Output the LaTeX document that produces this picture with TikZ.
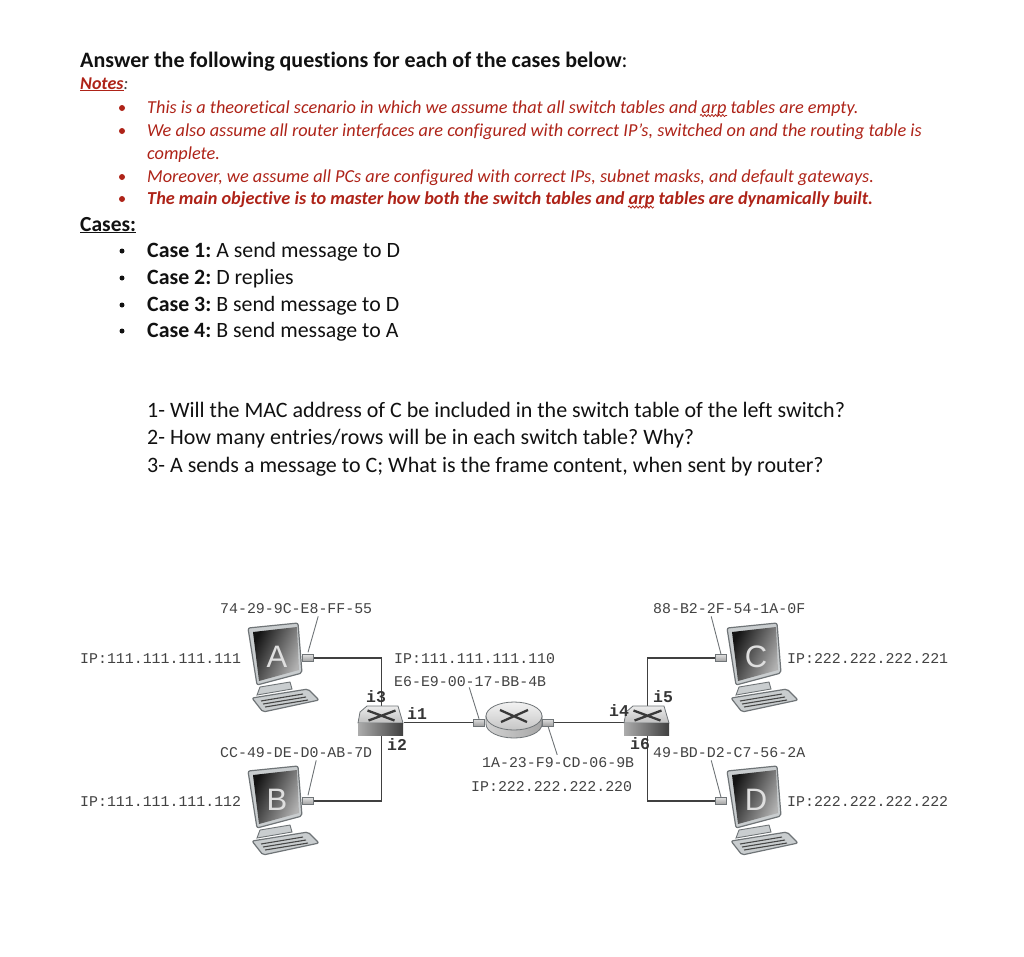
\documentclass[tikz,border=0pt]{standalone}
\usepackage{fontspec}
\setmainfont{Carlito}[Ligatures=NoCommon]
\setsansfont{Liberation Sans}
\setmonofont{Liberation Mono}
\frenchspacing
\usetikzlibrary{backgrounds,decorations.pathmorphing}
\definecolor{notered}{HTML}{AE2318}
\definecolor{ink}{HTML}{111111}
\definecolor{labelgray}{HTML}{424242}
\definecolor{wiregray}{HTML}{404040}
\definecolor{casing}{HTML}{C9CDCF}
\definecolor{edgegray}{HTML}{6F7477}
\tikzset{
  plain/.style={anchor=base west,inner sep=0pt,text=ink},
  heading/.style={plain,font=\fontsize{22}{24}\selectfont\bfseries},
  notehead/.style={plain,text=notered,font=\fontsize{18}{20}\selectfont\itshape\bfseries},
  notetext/.style={plain,text=notered,font=\fontsize{18.28}{20}\selectfont\itshape},
  notebold/.style={notetext,font=\fontsize{18.28}{20}\selectfont\itshape\bfseries},
  casehead/.style={plain,font=\fontsize{21.5}{24}\selectfont\bfseries},
  casetext/.style={plain,font=\fontsize{21.85}{24}\selectfont},
  asktext/.style={plain,font=\fontsize{22}{24}\selectfont},
  notedot/.style={circle,fill=notered,inner sep=0pt,minimum size=6pt},
  casedot/.style={circle,fill=ink,inner sep=0pt,minimum size=5pt},
  addr/.style={anchor=base west,inner sep=0pt,text=labelgray,font=\fontsize{14.9}{16}\selectfont\ttfamily},
  iface/.style={anchor=base west,inner sep=0pt,text=labelgray!80!black,font=\fontsize{16.5}{18}\selectfont\ttfamily\bfseries},
  portbox/.style={draw=edgegray,line width=0.5pt,top color=gray!25,bottom color=gray!75,inner sep=0pt,minimum width=11pt,minimum height=7pt},
  switchnode/.style={inner sep=0pt,minimum width=45pt,minimum height=29pt},
  routernode/.style={inner sep=0pt,minimum width=56pt,minimum height=36pt},
  wire/.style={draw=wiregray,line width=1.8pt,line join=miter},
  leader/.style={draw=edgegray,line width=0.9pt},
  squiggle/.style={draw=notered,line width=0.8pt,decorate,decoration={snake,amplitude=1.1pt,segment length=3.6pt}},
  pcletter/.style={inner sep=0pt,text=gray!25,font=\fontsize{31}{31}\selectfont\sffamily},
  pics/pc/.style={code={
    \draw[fill=casing,draw=edgegray,line width=1.2pt,rounded corners=2pt]
      (0,0) -- (50,-5) -- (54,45) -- (9,57) -- cycle;
    \shade[left color=black!92,right color=gray!60,shading angle=65]
      (5,4) -- (49,-1) -- (51,42) -- (11,53) -- cycle;
    \draw[fill=casing,draw=edgegray,line width=0.9pt]
      (12,59) -- (42,54) -- (44,61) -- (9,67) -- cycle;
    \draw[fill=casing,draw=edgegray,line width=1.2pt,rounded corners=2pt]
      (4,70) -- (60,61) -- (71,72) -- (15,84) -- cycle;
    \draw[draw=gray!55!black,line width=1.1pt]
      (13,73) -- (55,66) (15,76) -- (58,69) (17,79) -- (60,72);
    \node[pcletter] (-letter) at (29,29) {#1};
  }},
  pics/switchbox/.style={code={
    \draw[top color=gray!15,bottom color=gray!50,draw=edgegray,line width=0.8pt]
      (-21.5,-8.5) -- (-14.5,-14.5) -- (16.5,-14.5) -- (21.5,2.5) -- (-23.5,2.5) -- cycle;
    \shade[left color=gray!65,right color=black!75]
      (-23.5,2.5) -- (21.5,2.5) -- (21.5,14.5) -- (-23.5,14.5) -- cycle;
    \draw[draw=gray!45!black,line width=2.3pt] (-14,-10) -- (13,0) (-13,0) -- (14,-10);
  }},
  pics/routerbody/.style={code={
    \draw[left color=gray!35,right color=gray!70,draw=edgegray,line width=0.8pt]
      (-28,-4) -- (-28,4) arc[start angle=180,end angle=360,x radius=28,y radius=-14] -- (28,-4) -- cycle;
    \draw[top color=gray!10,bottom color=gray!45,draw=edgegray,line width=0.8pt]
      (0,-4) ellipse[x radius=28,y radius=14];
    \draw[draw=gray!45!black,line width=2.3pt] (-14,-10) -- (13,2) (-13,2) -- (14,-10);
  }}
}
\begin{document}
\begin{tikzpicture}[x=1pt,y=-1pt]
  \useasboundingbox (0,0) rectangle (1024,956);

  % Question sheet text.
  \node[heading] (title) at (80,67) {Answer the following questions for each of the cases below{\mdseries:}};
  \node[notehead] (notes) at (80,89) {\underline{Notes}{\mdseries\color{labelgray}:}};

  \node[notedot] (dotone) at (122,108) {};
  \node[notedot] (dottwo) at (122,131) {};
  \node[notedot] (dotthree) at (122,177) {};
  \node[notedot] (dotfour) at (122,199) {};
  \node[notetext] (noteone) at (147,113) {This is a theoretical scenario in which we assume that all switch tables and arp tables are empty.};
  \node[notetext] (notetwo) at (147,136) {We also assume all router interfaces are configured with correct IP’s, switched on and the routing table is};
  \node[notetext] (notetwob) at (147,159) {complete.};
  \node[notetext] (notethree) at (147,182) {Moreover, we assume all PCs are configured with correct IPs, subnet masks, and default gateways.};
  \node[notebold] (notefour) at (147,204) {The main objective is to master how both the switch tables and arp tables are dynamically built.};
  \draw[squiggle] (700,115.5) -- (727,115.5);
  \draw[squiggle] (628,207) -- (654,207);

  \node[casehead] (cases) at (80,231) {\underline{Cases:}};
  \node[casedot] (caseone) at (122,251) {};
  \node[casedot] (casetwo) at (122,278) {};
  \node[casedot] (casethree) at (122,305) {};
  \node[casedot] (casefour) at (122,331) {};
  \node[casetext] (caseonetext) at (147,257) {\textbf{Case 1:} A send message to D};
  \node[casetext] (casetwotext) at (147,284) {\textbf{Case 2:} D replies};
  \node[casetext] (casethreetext) at (147,311) {\textbf{Case 3:} B send message to D};
  \node[casetext] (casefourtext) at (147,337) {\textbf{Case 4:} B send message to A};

  \node[asktext] (askone) at (147,417) {1- Will the MAC address of C be included in the switch table of the left switch?};
  \node[asktext] (asktwo) at (147,444) {2- How many entries/rows will be in each switch table? Why?};
  \node[asktext] (askthree) at (147,472) {3- A sends a message to C; What is the frame content, when sent by router?};

  % Hosts, switches and router.
  \pic (pca) at (248,628) {pc=A};
  \pic (pcb) at (248,771) {pc=B};
  \pic (pcc) at (727,628) {pc=C};
  \pic (pcd) at (727,771) {pc=D};

  \node[portbox] (porta) at (307.5,658) {};
  \node[portbox] (portb) at (307.5,801) {};
  \node[portbox] (portc) at (721,658) {};
  \node[portbox] (portd) at (721,801) {};

  \node[switchnode] (swleft) at (381.5,720.5) {};
  \node[switchnode] (swright) at (647.5,720.5) {};
  \pic at (swleft) {switchbox};
  \pic at (swright) {switchbox};

  \node[routernode] (router) at (514,720) {};
  \pic at (router) {routerbody};
  \node[portbox] (rtleft) at (479,722.5) {};
  \node[portbox] (rtright) at (548,722.5) {};

  % Addresses.
  \node[addr] (maca) at (220,613) {74-29-9C-E8-FF-55};
  \node[addr] (macb) at (220,757) {CC-49-DE-D0-AB-7D};
  \node[addr] (macc) at (653,613) {88-B2-2F-54-1A-0F};
  \node[addr] (macd) at (653,757) {49-BD-D2-C7-56-2A};
  \node[addr] (ipa) at (80,663) {IP:111.111.111.111};
  \node[addr] (ipb) at (80,806) {IP:111.111.111.112};
  \node[addr] (ipc) at (787,663) {IP:222.222.222.221};
  \node[addr] (ipd) at (787,806) {IP:222.222.222.222};
  \node[addr] (iprtleft) at (394,663) {IP:111.111.111.110};
  \node[addr] (macrtleft) at (394,686) {E6-E9-00-17-BB-4B};
  \node[addr] (macrtright) at (482,767) {1A-23-F9-CD-06-9B};
  \node[addr] (iprtright) at (471,791) {IP:222.222.222.220};

  \node[iface] (ifone) at (407,719) {i1};
  \node[iface] (iftwo) at (387,750) {i2};
  \node[iface] (ifthree) at (366,702) {i3};
  \node[iface] (iffour) at (609,716) {i4};
  \node[iface] (iffive) at (653,702) {i5};
  \node[iface] (ifsix) at (630,749) {i6};

  % Cables and leaders sit behind the devices.
  \begin{scope}[on background layer]
    \draw[wire] (porta.east) -| (swleft.north);
    \draw[wire] (portb.east) -| (swleft.south);
    \draw[wire] (portc.west) -| (swright.north);
    \draw[wire] (portd.west) -| (swright.south);
    \draw[wire] (swleft.east |- rtleft.west) -- (rtleft.west);
    \draw[wire] (rtright.east) -- (swright.west |- rtright.east);

    \draw[leader] ([xshift=22pt,yshift=-3pt]maca.south) -- ([xshift=0.5pt,yshift=2pt]porta.north);
    \draw[leader] ([xshift=20pt,yshift=-3pt]macb.south) -- ([xshift=0.5pt,yshift=2pt]portb.north);
    \draw[leader] ([xshift=-18pt,yshift=-3pt]macc.south) -- (portc.north);
    \draw[leader] ([xshift=-18pt,yshift=-3pt]macd.south) -- (portd.north);
    \draw[leader] ([xshift=-1pt,yshift=-1pt]macrtleft.south) -- (rtleft.north);
    \draw[leader] (rtright.south) -- ([xshift=-1pt,yshift=2pt]macrtright.north);
  \end{scope}
\end{tikzpicture}
\end{document}
